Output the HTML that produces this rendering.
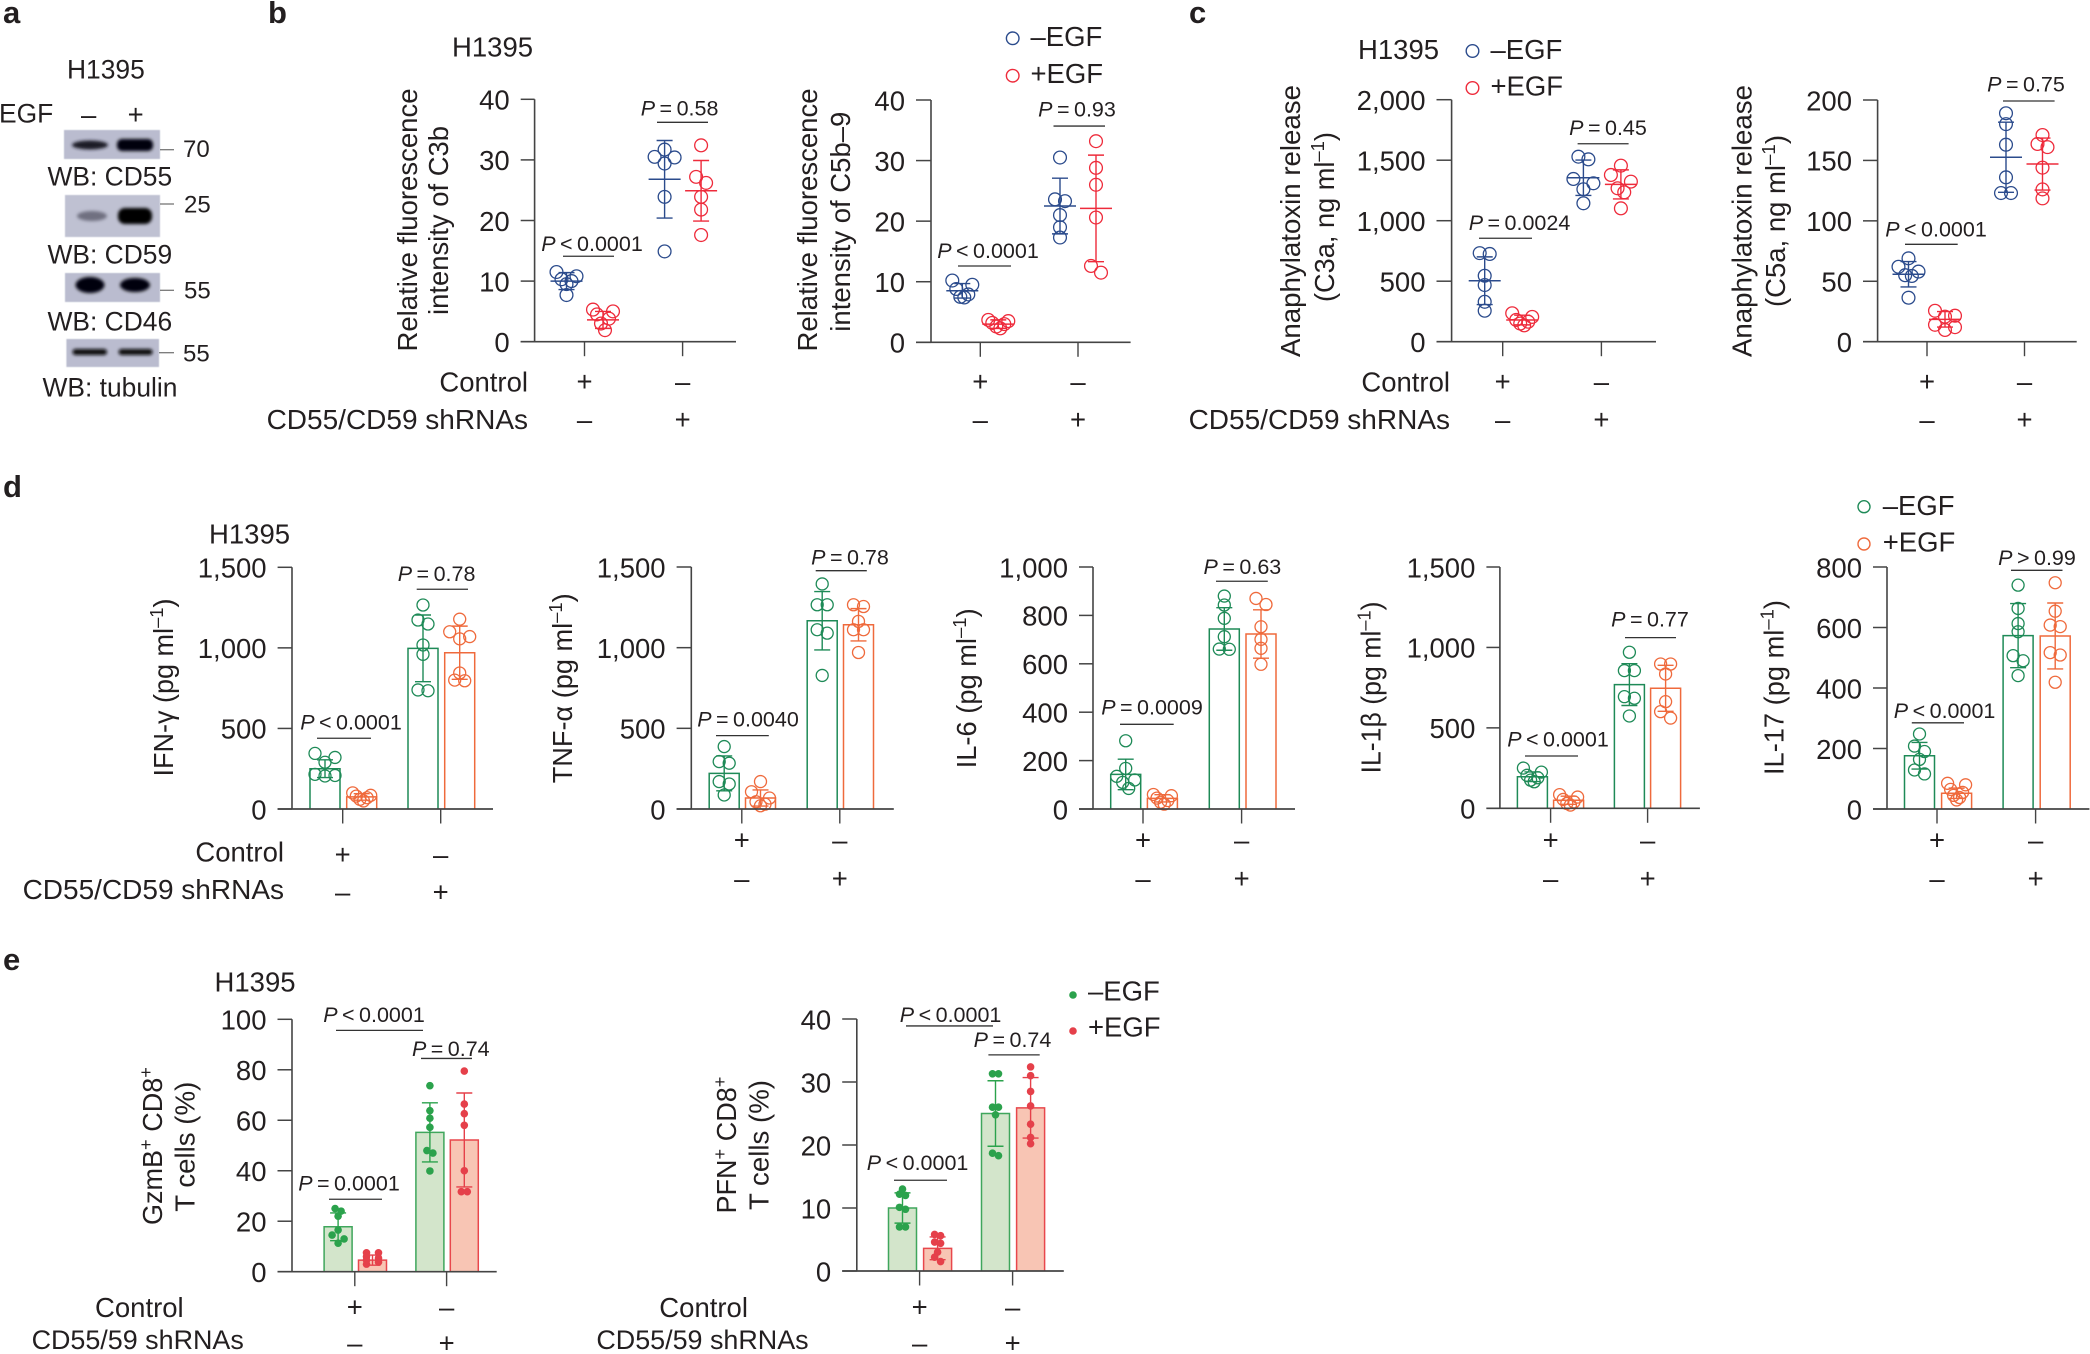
<!DOCTYPE html>
<html lang="en">
<head>
<meta charset="utf-8">
<title>H1395 complement and cytokine panels</title>
<style>
html,body{margin:0;padding:0;background:#fff;}
#figure{display:block;width:2090px;height:1354px;}
text{font-family:"Liberation Sans",Arial,sans-serif;fill:#231f20;font-size:27.5px;}
.panel{font-weight:bold;font-size:31px;}
.mw{font-size:24px;}
.blot-text{font-size:26.4px;}
.row-long{font-size:28px;}
.row-short{font-size:26.9px;}
</style>
</head>
<body>
<svg id="figure" xmlns="http://www.w3.org/2000/svg" width="2090" height="1354" viewBox="0 0 2090 1354">
<defs>
<filter id="blurA" x="-30%" y="-60%" width="160%" height="220%"><feGaussianBlur stdDeviation="1.6"/></filter>
<filter id="blurB" x="-5%" y="-5%" width="110%" height="110%"><feGaussianBlur stdDeviation="0.6"/></filter>
</defs>
<text class="panel" x="3" y="23">a</text>
<text class="panel" x="268" y="23">b</text>
<text class="panel" x="1189" y="23">c</text>
<text class="panel" x="3" y="497">d</text>
<text class="panel" x="3" y="970">e</text>

<g>
<text class="blot-text" x="67" y="78.7">H1395</text>
<text class="blot-text" x="-1" y="122.4">EGF</text>
<text x="88.6" y="124" text-anchor="middle">–</text>
<text x="135.7" y="124" text-anchor="middle">+</text>

<g>
<rect x="64" y="130" width="96" height="29" fill="#babccf" filter="url(#blurB)"/>
<ellipse cx="90" cy="145" rx="18" ry="4.5" fill="#1a1a28" filter="url(#blurA)"/>
<rect x="117" y="139" width="36" height="12" rx="5" fill="#05050a" filter="url(#blurA)"/>
<line x1="160" y1="149.7" x2="174" y2="149.7" stroke="#777" stroke-width="1.3"/>
<text class="mw" x="183" y="157">70</text>
</g>
<text class="blot-text" x="47.5" y="185.7">WB: CD55</text>

<g>
<rect x="65" y="195" width="95" height="42" fill="#bfc1d2" filter="url(#blurB)"/>
<ellipse cx="92" cy="216" rx="15" ry="5" fill="#6f7080" filter="url(#blurA)"/>
<rect x="118" y="208" width="34" height="16" rx="7" fill="#020205" filter="url(#blurA)"/>
<line x1="160" y1="204" x2="174" y2="204" stroke="#777" stroke-width="1.3"/>
<text class="mw" x="184" y="212.5">25</text>
</g>
<text class="blot-text" x="47.5" y="263.7">WB: CD59</text>

<g>
<rect x="65" y="273" width="95" height="29" fill="#babccf" filter="url(#blurB)"/>
<ellipse cx="90" cy="285" rx="14.5" ry="8" fill="#050508" filter="url(#blurA)"/>
<ellipse cx="135" cy="285" rx="15" ry="7" fill="#050508" filter="url(#blurA)"/>
<line x1="160" y1="290.3" x2="174" y2="290.3" stroke="#777" stroke-width="1.3"/>
<text class="mw" x="184" y="298.5">55</text>
</g>
<text class="blot-text" x="47.5" y="330.7">WB: CD46</text>

<g>
<rect x="66.4" y="339" width="92.6" height="28" fill="#babccf" filter="url(#blurB)"/>
<rect x="72.5" y="349" width="34.5" height="6" rx="3" fill="#08080c" filter="url(#blurA)"/>
<rect x="118.6" y="349" width="34" height="6" rx="3" fill="#08080c" filter="url(#blurA)"/>
<line x1="159" y1="352.7" x2="174" y2="352.7" stroke="#777" stroke-width="1.3"/>
<text class="mw" x="183" y="361.5">55</text>
</g>
<text class="blot-text" x="42.5" y="396.4">WB: tubulin</text>
</g>

<g>
<text x="452" y="56.4">H1395</text>
<text x="1358" y="59">H1395</text>
<text x="209" y="543.7">H1395</text>
<text x="214.5" y="991.7">H1395</text>

<text x="528" y="391.5" text-anchor="end">Control</text>
<text class="row-long" x="528" y="428.8" text-anchor="end">CD55/CD59 shRNAs</text>
<text x="1450" y="391.5" text-anchor="end">Control</text>
<text class="row-long" x="1450" y="428.8" text-anchor="end">CD55/CD59 shRNAs</text>
<text x="284" y="861.5" text-anchor="end">Control</text>
<text class="row-long" x="284" y="899.1" text-anchor="end">CD55/CD59 shRNAs</text>
<text x="95" y="1316.8">Control</text>
<text class="row-short" x="243.8" y="1349" text-anchor="end">CD55/59 shRNAs</text>
<text x="659.3" y="1316.8">Control</text>
<text class="row-short" x="808.6" y="1349" text-anchor="end">CD55/59 shRNAs</text>
</g>

<g>
<circle cx="1012.7" cy="38.3" r="6.3" fill="none" stroke="#2b4b8c" stroke-width="1.4"/>
<text x="1030.5" y="46.2">–EGF</text>
<circle cx="1012.7" cy="75.7" r="6.3" fill="none" stroke="#ee2b3b" stroke-width="1.4"/>
<text x="1030.5" y="83.2">+EGF</text>
</g>
<g>
<circle cx="1472.5" cy="51" r="6.3" fill="none" stroke="#2b4b8c" stroke-width="1.4"/>
<text x="1490.5" y="58.8">–EGF</text>
<circle cx="1472.5" cy="88" r="6.3" fill="none" stroke="#ee2b3b" stroke-width="1.4"/>
<text x="1490.5" y="95.5">+EGF</text>
</g>
<g>
<circle cx="1864" cy="506.7" r="6" fill="none" stroke="#1e8a57" stroke-width="1.4"/>
<text x="1882.7" y="514.8">–EGF</text>
<circle cx="1864" cy="544" r="6" fill="none" stroke="#ef6a3c" stroke-width="1.4"/>
<text x="1882.7" y="551.5">+EGF</text>
</g>
<g>
<circle cx="1073" cy="995" r="3.8" fill="#2ba24c"/>
<text x="1088" y="1000.5">–EGF</text>
<circle cx="1073" cy="1031" r="3.8" fill="#e5404a"/>
<text x="1088" y="1036.4">+EGF</text>
</g>
<g id="charts"></g>
</svg>

<script>
// Shared categorical rows
const controlSigns = ['+', '–'];
const shrnaSigns = ['–', '+'];

// Panel b, C3b
const ticksB1 = [0, 10, 20, 30, 40];
const valuesB1 = [[7.7, 9.5, 10, 10.3, 10.8, 11.5], [1.9, 3, 3.8, 4.5, 5, 5.3], [14.9, 23.9, 29.4, 30.4, 30.5, 31.7], [17.6, 21.8, 23.9, 26.2, 27.2, 32.4]];
const meansB1 = [10, 3.6, 26.8, 24.9];
const sdsB1 = [1.4, 1.4, 6.4, 5];
const pLabelsB1 = ['< 0.0001', '= 0.58'];
const pLevelsB1 = [14.1, 36.2];

// Panel b, C5b-9
const ticksB2 = [0, 10, 20, 30, 40];
const valuesB2 = [[7.4, 7.5, 7.9, 8.8, 9.5, 10.2], [2.3, 2.6, 3, 3.2, 3.5, 3.7], [17.3, 19, 21, 23.3, 23.6, 30.5], [11.5, 12.6, 20.6, 26, 28.8, 33.2]];
const meansB2 = [8.5, 3, 22.5, 22.1];
const sdsB2 = [1.2, 0.7, 4.6, 8.8];
const pLabelsB2 = ['< 0.0001', '= 0.93'];
const pLevelsB2 = [12.6, 35.7];

// Panel c, C3a
const ticksC1 = [0, 500, 1000, 1500, 2000];
const valuesC1 = [[256, 330, 468, 545, 725, 732], [135, 150, 165, 180, 205, 235], [1144, 1260, 1309, 1345, 1507, 1529], [1102, 1235, 1268, 1323, 1378, 1455]];
const meansC1 = [504, 179, 1355, 1300];
const sdsC1 = [197, 40, 146, 120];
const pLabelsC1 = ['= 0.0024', '= 0.45'];
const pLevelsC1 = [855, 1636];

// Panel c, C5a
const ticksC2 = [0, 50, 100, 150, 200];
const valuesC2 = [[36.4, 54.4, 55, 58, 62, 69], [9.7, 12, 14, 20.7, 21.5, 25.6], [123, 123, 136, 163, 180, 189], [118.6, 126, 144, 161, 163.6, 171]];
const meansC2 = [55.8, 18.5, 152.6, 147];
const sdsC2 = [10.5, 6.4, 29, 21.5];
const pLabelsC2 = ['< 0.0001', '= 0.75'];
const pLevelsC2 = [80.6, 199.2];

// Panel d, IFN-gamma
const ticksD1 = [0, 500, 1000, 1500];
const valuesD1 = [[205, 208, 215, 290, 320, 345], [50, 60, 70, 80, 85, 100], [734, 739, 960, 1018, 1148, 1173, 1266], [796, 800, 844, 1056, 1070, 1100, 1178]];
const meansD1 = [250, 75, 997, 970];
const sdsD1 = [55, 20, 207, 165];
const pLabelsD1 = ['< 0.0001', '= 0.78'];
const pLevelsD1 = [439, 1364];

// Panel d, TNF-alpha
const ticksD2 = [0, 500, 1000, 1500];
const valuesD2 = [[87, 155, 170, 284, 294, 387], [20, 30, 45, 68, 107, 170], [828, 1090, 1111, 1266, 1266, 1395], [970, 1111, 1111, 1163, 1255, 1266]];
const meansD2 = [221, 68, 1167, 1142];
const sdsD2 = [108, 50, 181, 100];
const pLabelsD2 = ['= 0.0040', '= 0.78'];
const pLevelsD2 = [455, 1477];

// Panel d, IL-6
const ticksD3 = [0, 200, 400, 600, 800, 1000];
const valuesD3 = [[85, 110, 120, 135, 168, 282], [20, 28, 35, 45, 55, 60], [660, 661, 712, 788, 843, 880], [598, 664, 701, 753, 845, 870]];
const meansD3 = [143, 44, 744, 723];
const sdsD3 = [63, 15, 88, 100];
const pLabelsD3 = ['= 0.0009', '= 0.63'];
const pLevelsD3 = [350, 941];

// Panel d, IL-1 beta
const ticksD4 = [0, 500, 1000, 1500];
const valuesD4 = [[165, 175, 190, 205, 225, 250], [20, 30, 40, 55, 70, 85], [574, 684, 694, 856, 856, 970], [561, 601, 663, 835, 897, 897]];
const meansD4 = [196, 50, 769, 746];
const sdsD4 = [30, 25, 130, 143];
const pLabelsD4 = ['< 0.0001', '= 0.77'];
const pLevelsD4 = [325, 1061];

// Panel d, IL-17
const ticksD5 = [0, 200, 400, 600, 800];
const valuesD5 = [[116, 129, 164, 190, 208, 248], [30, 38, 45, 55, 65, 80, 85], [441, 490, 507, 586, 613, 663, 740], [419, 509, 517, 603, 608, 654, 748]];
const meansD5 = [176, 52, 573, 572];
const sdsD5 = [44, 17, 106, 109];
const pLabelsD5 = ['< 0.0001', '> 0.99'];
const pLevelsD5 = [285, 789];

// Panel e, GzmB
const ticksE1 = [0, 20, 40, 60, 80, 100];
const valuesE1 = [[11.3, 13, 14.5, 16.5, 22, 24, 25], [3, 3.8, 4.6, 5.4, 6, 7.5, 7.5], [39.9, 47, 48, 57.2, 60.8, 63.8, 73.7], [31.7, 31.7, 40, 58, 62.6, 66.4, 79.5]];
const meansE1 = [17.8, 4.6, 55.2, 52.2];
const sdsE1 = [5.5, 2, 11.7, 18.6];
const pLabelsE1 = ['= 0.0001', '< 0.0001', '= 0.74'];
const pLevelsE1 = [28.7, 95.6, 84.5];

// Panel e, PFN
const ticksE2 = [0, 10, 20, 30, 40];
const valuesE2 = [[7, 7, 9.8, 10.1, 12, 12.2, 13], [1.5, 2.2, 3, 4.4, 4.6, 5.6, 5.8], [18.3, 18.7, 24.8, 26, 26, 31.3, 31.3], [20.2, 21.2, 23.3, 26.2, 28.5, 31, 32.4]];
const meansE2 = [10, 3.6, 25, 25.9];
const sdsE2 = [2.4, 1.8, 5.2, 4.8];
const pLabelsE2 = ['< 0.0001', '< 0.0001', '= 0.74'];
const pLevelsE2 = [14.4, 38.9, 34.3];

const NS = 'http://www.w3.org/2000/svg';
const root = document.getElementById('charts');

function svgEl(tag, attrs, parent) {
  const el = document.createElementNS(NS, tag);
  for (const k in attrs) el.setAttribute(k, attrs[k]);
  parent.appendChild(el);
  return el;
}

function fillRich(textNode, str, baseSize) {
  const parts = str.split(/(\^\{[^}]*\})/);
  let pendingDown = false;
  parts.forEach(function (part) {
    if (!part) return;
    if (part.charAt(0) === '^') {
      const sup = svgEl('tspan', {dy: -10, style: 'font-size:' + (baseSize * 0.68) + 'px'}, textNode);
      sup.textContent = part.slice(2, -1);
      pendingDown = true;
    } else {
      const run = svgEl('tspan', pendingDown ? {dy: 10} : {}, textNode);
      run.textContent = part;
      pendingDown = false;
    }
  });
}

// Lays points out the way the plotting software bins them: values close on the
// y axis share a row and are spread sideways.
function swarmOffsets(pixels, spacing, binPx, clusterSpan, zigzag) {
  const order = pixels.map(function (p, i) { return i; }).sort(function (a, b) { return pixels[b] - pixels[a]; });
  const result = new Array(pixels.length).fill(0);
  let start = 0;
  while (start < order.length) {
    let end = start + 1;
    while (end < order.length && pixels[order[end - 1]] - pixels[order[end]] < binPx) end++;
    const n = end - start;
    if (n > 3 && zigzag) {
      for (let k = 0; k < n; k++) result[order[start + k]] = k % 2 === 0 ? -spacing : spacing;
    } else {
      const step = n <= 3 ? spacing : clusterSpan / (n - 1);
      const slots = [];
      for (let k = 0; k < n; k++) slots.push((k - (n - 1) / 2) * step);
      let lo = 0, hi = n - 1;
      for (let k = 0; k < n; k++) {
        result[order[start + k]] = k % 2 === 0 ? slots[lo++] : slots[hi--];
      }
    }
    start = end;
  }
  return result;
}

function drawChart(cfg) {
  const g = svgEl('g', {}, root);
  
  

  const maxV = cfg.ticks[cfg.ticks.length - 1];
  const yScale = function (v) { return cfg.bottom - (v / maxV) * (cfg.bottom - cfg.top); };
  const xScale = function (groupIndex, seriesIndex) { return cfg.tickX[groupIndex] + cfg.offsets[seriesIndex]; };

  cfg.values.forEach(function (vals, idx) {
    const groupIndex = idx < 2 ? 0 : 1;
    const seriesIndex = idx % 2;
    const cx = xScale(groupIndex, seriesIndex);
    const color = cfg.colors[seriesIndex];
    const mean = cfg.means[idx];
    const sd = cfg.sds[idx];

    if (cfg.barWidth) {
      const bw = cfg.barWidth;
      const barTop = yScale(mean);
      const bar = svgEl('path', {
        d: 'M' + (cx - bw / 2) + ' ' + cfg.bottom + 'V' + barTop + 'H' + (cx + bw / 2) + 'V' + cfg.bottom,
        fill: cfg.barFills ? cfg.barFills[seriesIndex] : 'none',
        stroke: cfg.barStrokes ? cfg.barStrokes[seriesIndex] : color,
        'stroke-width': 1.5
      }, g);
      
      
    } else {
      const meanLine = svgEl('line', {
        x1: cx - 16, x2: cx + 16, y1: yScale(mean), y2: yScale(mean),
        stroke: color, 'stroke-width': 1.5
      }, g);
      
      
    }

    const whisker = svgEl('path', {
      d: 'M' + cx + ' ' + yScale(mean - sd) + 'V' + yScale(mean + sd) +
         'M' + (cx - 8) + ' ' + yScale(mean + sd) + 'h16' +
         'M' + (cx - 8) + ' ' + yScale(mean - sd) + 'h16',
      fill: 'none', stroke: color, 'stroke-width': 1.4
    }, g);
    
    

    const pixels = vals.map(yScale).map(function (p) { return cfg.bottom - p; });
    const jitter = swarmOffsets(pixels, cfg.spacing, cfg.binPx, cfg.clusterSpan, !!cfg.dots);
    vals.forEach(function (v, i) {
      const pt = svgEl('circle', cfg.dots ? {
        cx: cx + jitter[i], cy: yScale(v), r: cfg.radius, fill: color
      } : {
        cx: cx + jitter[i], cy: yScale(v), r: cfg.radius, fill: 'none', stroke: color, 'stroke-width': 1.3
      }, g);
      
      
    });
  });

  const yAxis = svgEl('line', {
    x1: cfg.axisX, x2: cfg.axisX, y1: cfg.top, y2: cfg.bottom, stroke: '#444', 'stroke-width': 1.6
  }, g);
  
  

  cfg.ticks.forEach(function (t) {
    const y = yScale(t);
    const tick = svgEl('line', {
      x1: cfg.tickLeft, x2: cfg.axisX, y1: y, y2: y, stroke: '#444', 'stroke-width': 1.5
    }, g);
    
    
    const label = svgEl('text', {x: cfg.tickLeft - 11, y: y + 10.3, 'text-anchor': 'end'}, g);
    label.textContent = String(t).replace(/\B(?=(\d{3})+$)/g, ',');
    
    
  });

  const xAxis = svgEl('line', {
    x1: cfg.tickLeft, x2: cfg.right, y1: cfg.bottom, y2: cfg.bottom, stroke: '#444', 'stroke-width': 1.7
  }, g);
  
  

  cfg.tickX.forEach(function (tx, i) {
    const tick = svgEl('line', {
      x1: tx, x2: tx, y1: cfg.bottom, y2: cfg.bottom + 14.5, stroke: '#444', 'stroke-width': 1.4
    }, g);
    
    

    const signA = svgEl('text', {x: tx, y: cfg.rows[0], 'text-anchor': 'middle'}, g);
    signA.textContent = controlSigns[i];
    
    

    const signB = svgEl('text', {x: tx, y: cfg.rows[1], 'text-anchor': 'middle'}, g);
    signB.textContent = shrnaSigns[i];
    
    
  });

  cfg.yTitles.forEach(function (line, i) {
    const title = svgEl('text', {
      x: line[1], y: line[2], 'text-anchor': 'middle',
      transform: 'rotate(-90 ' + line[1] + ' ' + line[2] + ')',
      textLength: line[3], lengthAdjust: 'spacingAndGlyphs'
    }, g);
    fillRich(title, line[0], 27.5);
    
    
  });

  cfg.pLabels.forEach(function (lab, i) {
    const place = cfg.pPlace[i];
    const y = yScale(cfg.pLevels[i]);
    const bracket = svgEl('line', {
      x1: place[0], x2: place[1], y1: y, y2: y, stroke: '#333', 'stroke-width': 1.3
    }, g);
    
    

    const txt = svgEl('text', {
      x: place[2], y: y - place[3], 'text-anchor': 'middle', 'word-spacing': -1.5,
      style: 'font-size:21.5px'
    }, g);
    const italic = svgEl('tspan', {'font-style': 'italic'}, txt);
    italic.textContent = 'P';
    const rest = svgEl('tspan', {}, txt);
    rest.textContent = ' ' + lab;
    
    
  });
}

const openBlueRed = ['#2b4b8c', '#ee2b3b'];
const openGreenOrange = ['#1e8a57', '#ef6a3c'];
const dotGreenRed = ['#2ba24c', '#e5404a'];
const barFills = ['#d3e5cb', '#f8c5b4'];
const barStrokes = ['#3fa65c', '#e8474c'];

drawChart({id: 'c3b', axisX: 534.6, tickLeft: 520.7, right: 736, top: 99.3, bottom: 341.7,
  tickX: [584.5, 682.6], offsets: [-18, 18.5], rows: [391, 429], radius: 6.4, spacing: 10, binPx: 7, clusterSpan: 20,
  ticks: ticksB1, values: valuesB1, means: meansB1, sds: sdsB1, colors: openBlueRed,
  pLabels: pLabelsB1, pLevels: pLevelsB1, pPlace: [[563, 614, 592, 5.5], [657, 708, 679.6, 7]],
  yTitles: [['Relative fluorescence', 417, 220, 263], ['intensity of C3b', 448, 220.5, 189]]});

drawChart({id: 'c5b-9', axisX: 931, tickLeft: 916, right: 1130.6, top: 100, bottom: 342.3,
  tickX: [980.3, 1078], offsets: [-18, 18], rows: [391, 429], radius: 6.4, spacing: 10, binPx: 7, clusterSpan: 20,
  ticks: ticksB2, values: valuesB2, means: meansB2, sds: sdsB2, colors: openBlueRed,
  pLabels: pLabelsB2, pLevels: pLevelsB2, pPlace: [[958, 1011, 988, 8], [1053.5, 1105, 1077, 9.5]],
  yTitles: [['Relative fluorescence', 817, 220, 263], ['intensity of C5b–9', 850, 221.7, 220]]});

drawChart({id: 'c3a', axisX: 1451.6, tickLeft: 1436.5, right: 1656, top: 99.7, bottom: 341.7,
  tickX: [1502.7, 1601.4], offsets: [-18, 19.5], rows: [391, 429], radius: 6.4, spacing: 10, binPx: 7, clusterSpan: 20,
  ticks: ticksC1, values: valuesC1, means: meansC1, sds: sdsC1, colors: openBlueRed,
  pLabels: pLabelsC1, pLevels: pLevelsC1, pPlace: [[1479, 1532, 1519.5, 8], [1577.6, 1628.6, 1608, 8.7]],
  yTitles: [['Anaphylatoxin release', 1300, 221, 272], ['(C3a, ng ml^{–1})', 1334, 217, 170]]});

drawChart({id: 'c5a', axisX: 1877.6, tickLeft: 1863, right: 2076.7, top: 100, bottom: 341.7,
  tickX: [1927, 2024.5], offsets: [-18.5, 18], rows: [391, 429], radius: 6.4, spacing: 10, binPx: 7, clusterSpan: 20,
  ticks: ticksC2, values: valuesC2, means: meansC2, sds: sdsC2, colors: openBlueRed,
  pLabels: pLabelsC2, pLevels: pLevelsC2, pPlace: [[1905, 1957.7, 1936, 8], [2003, 2054.6, 2026, 9.3]],
  yTitles: [['Anaphylatoxin release', 1751.7, 221, 272], ['(C5a, ng ml^{–1})', 1785, 221, 172]]});

drawChart({id: 'ifn-gamma', axisX: 292, tickLeft: 277.6, right: 493, top: 567.3, bottom: 809,
  tickX: [342.7, 440.7], offsets: [-17.7, 19], rows: [864, 901.5], radius: 6, spacing: 10, binPx: 7, clusterSpan: 18, barWidth: 30,
  ticks: ticksD1, values: valuesD1, means: meansD1, sds: sdsD1, colors: openGreenOrange,
  pLabels: pLabelsD1, pLevels: pLevelsD1, pPlace: [[317, 371, 351, 9], [416.7, 468, 436.6, 8.3]],
  yTitles: [['IFN-γ (pg ml^{–1})', 173, 687.5, 178]]});

drawChart({id: 'tnf-alpha', axisX: 691.3, tickLeft: 676.6, right: 893.8, top: 567, bottom: 809,
  tickX: [741.8, 839.8], offsets: [-17.6, 18.7], rows: [849.5, 888], radius: 6, spacing: 10, binPx: 7, clusterSpan: 18, barWidth: 30,
  ticks: ticksD2, values: valuesD2, means: meansD2, sds: sdsD2, colors: openGreenOrange,
  pLabels: pLabelsD2, pLevels: pLevelsD2, pPlace: [[716, 768.8, 748, 9], [815.7, 866.8, 850, 6]],
  yTitles: [['TNF-α (pg ml^{–1})', 572, 688.3, 190]]});

drawChart({id: 'il-6', axisX: 1093, tickLeft: 1079, right: 1295, top: 567, bottom: 809,
  tickX: [1143, 1241.6], offsets: [-17.3, 19.4], rows: [849.5, 888], radius: 6, spacing: 10, binPx: 7, clusterSpan: 18, barWidth: 30,
  ticks: ticksD3, values: valuesD3, means: meansD3, sds: sdsD3, colors: openGreenOrange,
  pLabels: pLabelsD3, pLevels: pLevelsD3, pPlace: [[1120, 1173.7, 1152, 10], [1216, 1267.8, 1242.4, 7.3]],
  yTitles: [['IL-6 (pg ml^{–1})', 976, 688.3, 160]]});

drawChart({id: 'il-1-beta', axisX: 1499.9, tickLeft: 1486.4, right: 1699.9, top: 567, bottom: 808.3,
  tickX: [1550.6, 1647.6], offsets: [-18.2, 18], rows: [849.5, 888], radius: 6, spacing: 10, binPx: 7, clusterSpan: 18, barWidth: 30,
  ticks: ticksD4, values: valuesD4, means: meansD4, sds: sdsD4, colors: openGreenOrange,
  pLabels: pLabelsD4, pLevels: pLevelsD4, pPlace: [[1525, 1578, 1558, 9.3], [1625, 1676, 1650, 11]],
  yTitles: [['IL-1β (pg ml^{–1})', 1380.4, 687.5, 172]]});

drawChart({id: 'il-17', axisX: 1887, tickLeft: 1873, right: 2089.4, top: 567, bottom: 809,
  tickX: [1937, 2035.6], offsets: [-17.5, 19.6], rows: [849.5, 888], radius: 6, spacing: 10, binPx: 7, clusterSpan: 18, barWidth: 30,
  ticks: ticksD5, values: valuesD5, means: meansD5, sds: sdsD5, colors: openGreenOrange,
  pLabels: pLabelsD5, pLevels: pLevelsD5, pPlace: [[1911.8, 1964, 1944.6, 4.7], [2011, 2062.5, 2037, 5.3]],
  yTitles: [['IL-17 (pg ml^{–1})', 1783.4, 687.5, 175]]});

drawChart({id: 'gzmb', axisX: 292, tickLeft: 277.5, right: 496.7, top: 1019.3, bottom: 1271.7,
  tickX: [354.8, 446.6], offsets: [-16.7, 17.7], rows: [1316.3, 1352.5], radius: 3.8, spacing: 6, binPx: 5, clusterSpan: 12, barWidth: 28, dots: true,
  barFills: barFills, barStrokes: barStrokes,
  ticks: ticksE1, values: valuesE1, means: meansE1, sds: sdsE1, colors: dotGreenRed,
  pLabels: pLabelsE1, pLevels: pLevelsE1, pPlace: [[329, 382, 349, 8.6], [336, 423, 374, 8.6], [421, 472, 450.8, 2.6]],
  yTitles: [['GzmB^{+} CD8^{+}', 162, 1146, 158], ['T cells (%)', 194.4, 1146.7, 130]]});

drawChart({id: 'pfn', axisX: 856.8, tickLeft: 842.2, right: 1063.8, top: 1019, bottom: 1271,
  tickX: [919.6, 1012.6], offsets: [-17.1, 18], rows: [1316.3, 1352.5], radius: 3.8, spacing: 6, binPx: 5, clusterSpan: 12, barWidth: 28, dots: true,
  barFills: barFills, barStrokes: barStrokes,
  ticks: ticksE2, values: valuesE2, means: meansE2, sds: sdsE2, colors: dotGreenRed,
  pLabels: pLabelsE2, pLevels: pLevelsE2, pPlace: [[894, 947, 917.6, 10.3], [906, 993, 950.6, 4], [988.4, 1039.7, 1012.5, 7.7]],
  yTitles: [['PFN^{+} CD8^{+}', 735.9, 1145, 137], ['T cells (%)', 768.4, 1145, 130]]});
</script>
</body>
</html>
